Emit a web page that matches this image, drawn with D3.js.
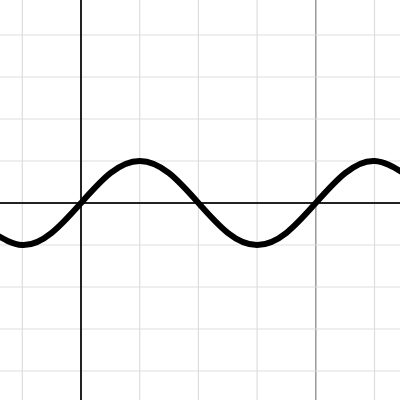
<!DOCTYPE html>
<html>
<head>
<meta charset="utf-8">
<script src="https://cdn.jsdelivr.net/npm/d3@7"></script>
<style>
  body { margin: 0; background: #fff; }
  svg { display: block; }
</style>
</head>
<body>
<div id="chart"></div>
<script>
// curve samples, x in grid units (1 unit = pi/2)
var sampleX = [-1.5, -1, -0.5, 0, 0.5, 1, 1.5, 2, 2.5, 3, 3.5, 4, 4.5, 5, 5.5];
var sampleY = [-0.71, -1, -0.71, 0, 0.71, 1, 0.71, 0, -0.71, -1, -0.71, 0, 0.71, 1, 0.71];
var gridX = [-1, 0, 1, 2, 3, 4, 5];
var gridY = [-4, -3, -2, -1, 0, 1, 2, 3, 4];
var majorX = [4];

var width = 400, height = 400;

var x = d3.scaleLinear().domain([-81 / 58.7, (width - 81) / 58.7]).range([0, width]);
var y = d3.scaleLinear().domain([-(height - 203) / 42, 203 / 42]).range([height, 0]);

var svg = d3.select("#chart").append("svg")
    .attr("width", width)
    .attr("height", height);

svg.append("g").selectAll("line")
    .data(gridX.filter(function(d) { return d !== 0; }))
    .enter().append("line")
        .attr("x1", function(d) { return x(d); })
        .attr("x2", function(d) { return x(d); })
        .attr("y1", 0).attr("y2", height)
        .attr("stroke", function(d) { return majorX.indexOf(d) >= 0 ? "#999" : "#ddd"; })
        .attr("stroke-width", function(d) { return majorX.indexOf(d) >= 0 ? 1.5 : 1.2; });

svg.append("g").selectAll("line")
    .data(gridY.filter(function(d) { return d !== 0; }))
    .enter().append("line")
        .attr("x1", 0).attr("x2", width)
        .attr("y1", function(d) { return y(d); })
        .attr("y2", function(d) { return y(d); })
        .attr("stroke", "#ddd")
        .attr("stroke-width", 1.2);

// axes
svg.append("line")
    .attr("x1", 0).attr("x2", width)
    .attr("y1", y(0)).attr("y2", y(0))
    .attr("stroke", "#222").attr("stroke-width", 2);
svg.append("line")
    .attr("x1", x(0)).attr("x2", x(0))
    .attr("y1", 0).attr("y2", height)
    .attr("stroke", "#222").attr("stroke-width", 2);

var pts = sampleX.map(function(d, i) { return [d, sampleY[i]]; });
var line = d3.line()
    .x(function(d) { return x(d[0]); })
    .y(function(d) { return y(d[1]); })
    .curve(d3.curveNatural);

svg.append("path")
    .datum(pts)
    .attr("d", line)
    .attr("fill", "none")
    .attr("stroke", "#000")
    .attr("stroke-width", 6);
</script>
</body>
</html>
